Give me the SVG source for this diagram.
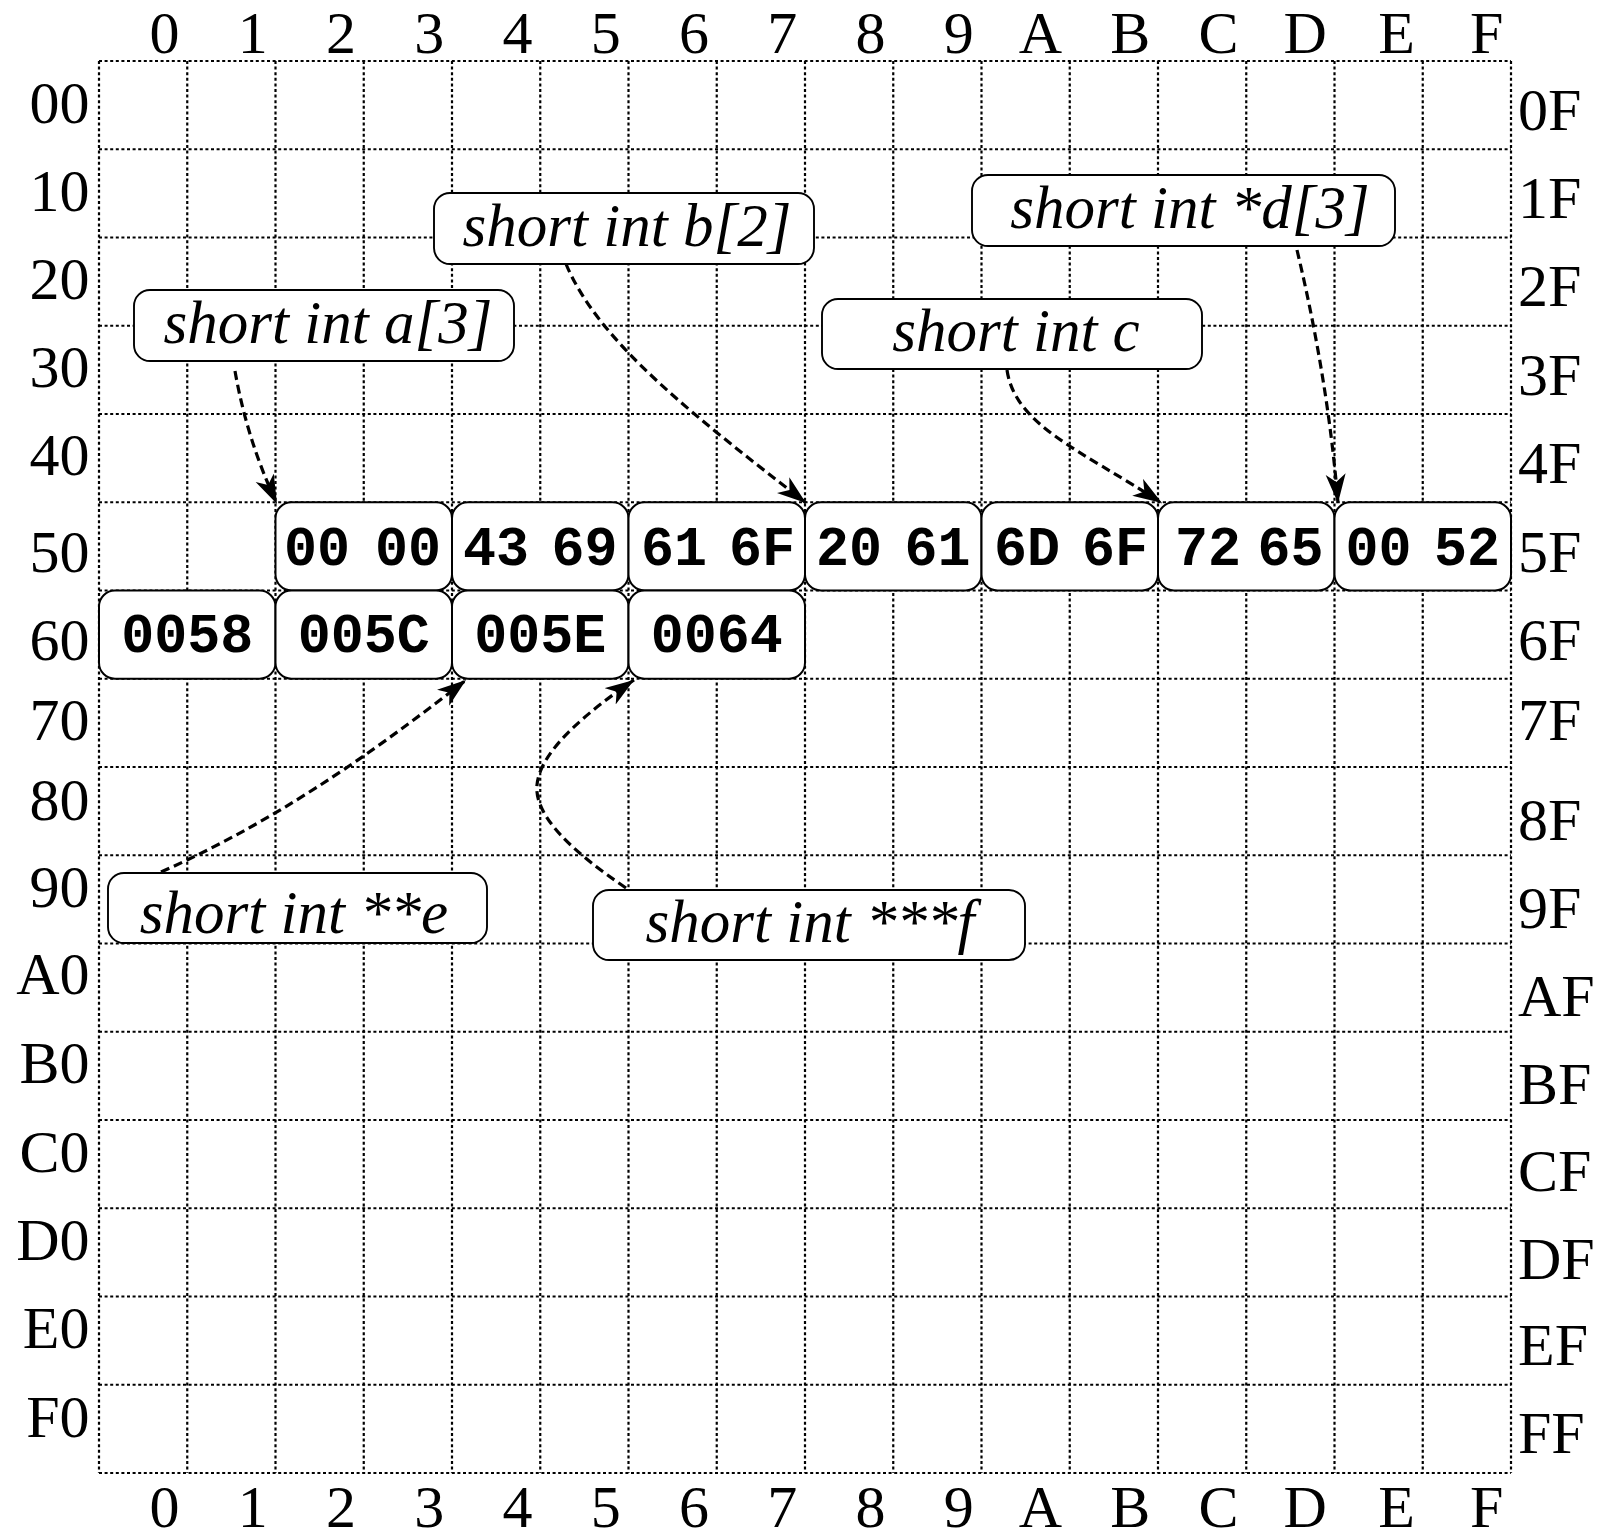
<svg xmlns="http://www.w3.org/2000/svg" width="1615" height="1537" viewBox="0 0 1615 1537">
<style>
.grid line{stroke:#000;stroke-width:2.2;stroke-dasharray:3 2.6}
.ax{font-family:"Liberation Serif","Times New Roman",serif;font-size:60px;fill:#000}
.axe{text-anchor:end}
.lbl rect{fill:#fff;stroke:#000;stroke-width:1.9}
.lbl text{font-family:"Liberation Serif","Times New Roman",serif;font-style:italic;font-size:61px;text-anchor:middle;fill:#000}
.mem rect{fill:#fff;stroke:#000;stroke-width:2}
.mem text{font-family:"Liberation Mono","Courier New",monospace;font-weight:bold;font-size:55px;text-anchor:middle;fill:#000}
.conn path{fill:none;stroke:#000;stroke-width:3.2;stroke-dasharray:9 5;marker-end:url(#ah)}
</style>
<defs>
<marker id="ah" markerUnits="userSpaceOnUse" markerWidth="32" markerHeight="22" refX="29" refY="10" orient="auto">
<path d="M0,0 L29,10 L0,20 L8,10 Z" fill="#000"/>
</marker>
</defs>
<rect width="1615" height="1537" fill="#fff"/>
<g class="grid">
<line x1="99" y1="61" x2="99" y2="1473"/>
<line x1="187.25" y1="61" x2="187.25" y2="1473"/>
<line x1="275.5" y1="61" x2="275.5" y2="1473"/>
<line x1="363.75" y1="61" x2="363.75" y2="1473"/>
<line x1="452" y1="61" x2="452" y2="1473"/>
<line x1="540.25" y1="61" x2="540.25" y2="1473"/>
<line x1="628.5" y1="61" x2="628.5" y2="1473"/>
<line x1="716.75" y1="61" x2="716.75" y2="1473"/>
<line x1="805" y1="61" x2="805" y2="1473"/>
<line x1="893.25" y1="61" x2="893.25" y2="1473"/>
<line x1="981.5" y1="61" x2="981.5" y2="1473"/>
<line x1="1069.75" y1="61" x2="1069.75" y2="1473"/>
<line x1="1158" y1="61" x2="1158" y2="1473"/>
<line x1="1246.25" y1="61" x2="1246.25" y2="1473"/>
<line x1="1334.5" y1="61" x2="1334.5" y2="1473"/>
<line x1="1422.75" y1="61" x2="1422.75" y2="1473"/>
<line x1="1511" y1="61" x2="1511" y2="1473"/>
<line x1="99" y1="61" x2="1511" y2="61"/>
<line x1="99" y1="149.25" x2="1511" y2="149.25"/>
<line x1="99" y1="237.5" x2="1511" y2="237.5"/>
<line x1="99" y1="325.75" x2="1511" y2="325.75"/>
<line x1="99" y1="414" x2="1511" y2="414"/>
<line x1="99" y1="502.25" x2="1511" y2="502.25"/>
<line x1="99" y1="590.5" x2="1511" y2="590.5"/>
<line x1="99" y1="678.75" x2="1511" y2="678.75"/>
<line x1="99" y1="767" x2="1511" y2="767"/>
<line x1="99" y1="855.25" x2="1511" y2="855.25"/>
<line x1="99" y1="943.5" x2="1511" y2="943.5"/>
<line x1="99" y1="1031.75" x2="1511" y2="1031.75"/>
<line x1="99" y1="1120" x2="1511" y2="1120"/>
<line x1="99" y1="1208.25" x2="1511" y2="1208.25"/>
<line x1="99" y1="1296.5" x2="1511" y2="1296.5"/>
<line x1="99" y1="1384.75" x2="1511" y2="1384.75"/>
<line x1="99" y1="1473" x2="1511" y2="1473"/>
</g>
<g id="col-labels-top" class="ax axe">
<text x="179.5" y="53">0</text><text x="267.75" y="53">1</text><text x="356" y="53">2</text><text x="444.25" y="53">3</text>
<text x="532.5" y="53">4</text><text x="620.75" y="53">5</text><text x="709" y="53">6</text><text x="797.25" y="53">7</text>
<text x="885.5" y="53">8</text><text x="973.75" y="53">9</text><text x="1062" y="53">A</text><text x="1150.25" y="53">B</text>
<text x="1238.5" y="53">C</text><text x="1326.75" y="53">D</text><text x="1415" y="53">E</text><text x="1503.25" y="53">F</text>
</g>
<g id="col-labels-bottom" class="ax axe">
<text x="179.5" y="1527">0</text><text x="267.75" y="1527">1</text><text x="356" y="1527">2</text><text x="444.25" y="1527">3</text>
<text x="532.5" y="1527">4</text><text x="620.75" y="1527">5</text><text x="709" y="1527">6</text><text x="797.25" y="1527">7</text>
<text x="885.5" y="1527">8</text><text x="973.75" y="1527">9</text><text x="1062" y="1527">A</text><text x="1150.25" y="1527">B</text>
<text x="1238.5" y="1527">C</text><text x="1326.75" y="1527">D</text><text x="1415" y="1527">E</text><text x="1503.25" y="1527">F</text>
</g>
<g id="row-labels-left" class="ax axe">
<text x="89.5" y="123">00</text><text x="89.5" y="211">10</text><text x="89.5" y="299">20</text><text x="89.5" y="387">30</text>
<text x="89.5" y="475">40</text><text x="89.5" y="572">50</text><text x="89.5" y="660">60</text><text x="89.5" y="740">70</text>
<text x="89.5" y="820">80</text><text x="89.5" y="907">90</text><text x="89.5" y="994">A0</text><text x="89.5" y="1083">B0</text>
<text x="89.5" y="1172">C0</text><text x="89.5" y="1260">D0</text><text x="89.5" y="1348">E0</text><text x="89.5" y="1437">F0</text>
</g>
<g id="row-labels-right" class="ax">
<text x="1518" y="130">0F</text><text x="1518" y="218">1F</text><text x="1518" y="306">2F</text><text x="1518" y="395">3F</text>
<text x="1518" y="483">4F</text><text x="1518" y="572">5F</text><text x="1518" y="660">6F</text><text x="1518" y="740">7F</text>
<text x="1518" y="840">8F</text><text x="1518" y="928">9F</text><text x="1518" y="1016">AF</text><text x="1518" y="1104">BF</text>
<text x="1518" y="1191">CF</text><text x="1518" y="1279">DF</text><text x="1518" y="1365">EF</text><text x="1518" y="1453">FF</text>
</g>
<g id="mem-row-50" class="mem">
<g id="m50"><rect x="275.5" y="502.25" width="176.5" height="88.25" rx="16"/><text x="317" y="565">00</text><text x="408" y="565">00</text></g>
<g id="m52"><rect x="452" y="502.25" width="176.5" height="88.25" rx="16"/><text x="496" y="565">43</text><text x="584.4" y="565">69</text></g>
<g id="m54"><rect x="628.5" y="502.25" width="176.5" height="88.25" rx="16"/><text x="674" y="565">61</text><text x="762" y="565">6F</text></g>
<g id="m56"><rect x="805" y="502.25" width="176.5" height="88.25" rx="16"/><text x="849.1" y="565">20</text><text x="937.4" y="565">61</text></g>
<g id="m58"><rect x="981.5" y="502.25" width="176.5" height="88.25" rx="16"/><text x="1027" y="565">6D</text><text x="1115" y="565">6F</text></g>
<g id="m5A"><rect x="1158" y="502.25" width="176.5" height="88.25" rx="16"/><text x="1208" y="565">72</text><text x="1290.4" y="565">65</text></g>
<g id="m5C"><rect x="1334.5" y="502.25" width="176.5" height="88.25" rx="16"/><text x="1378.6" y="565">00</text><text x="1466.9" y="565">52</text></g>
</g>
<g id="mem-row-60" class="mem">
<g id="m60"><rect x="99" y="590.5" width="176.5" height="88.25" rx="16"/><text x="187.25" y="652">0058</text></g>
<g id="m62"><rect x="275.5" y="590.5" width="176.5" height="88.25" rx="16"/><text x="363.75" y="652">005C</text></g>
<g id="m64"><rect x="452" y="590.5" width="176.5" height="88.25" rx="16"/><text x="540.25" y="652">005E</text></g>
<g id="m66"><rect x="628.5" y="590.5" width="176.5" height="88.25" rx="16"/><text x="716.75" y="652">0064</text></g>
</g>
<g id="label-a" class="lbl"><rect x="134" y="290" width="380" height="71" rx="16"/><text x="328" y="343">short int a[3]</text></g>
<g id="label-b" class="lbl"><rect x="434" y="193" width="380" height="71" rx="16"/><text x="627" y="246">short int b[2]</text></g>
<g id="label-c" class="lbl"><rect x="822" y="299" width="380" height="70" rx="16"/><text x="1016" y="351">short int c</text></g>
<g id="label-d" class="lbl"><rect x="972" y="175" width="423" height="71" rx="16"/><text x="1190" y="228">short int *d[3]</text></g>
<g id="label-e" class="lbl"><rect x="108" y="873" width="379" height="70" rx="16"/><text x="294" y="933">short int **e</text></g>
<g id="label-f" class="lbl"><rect x="593" y="890" width="432" height="70" rx="16"/><text x="810" y="942">short int ***f</text></g>
<g id="connectors" class="conn">
<path d="M235,371 Q247,440 277,504"/>
<path d="M566,264 C600,345 700,420 806,503"/>
<path d="M1007,370 C1015,425 1080,450 1162,503"/>
<path d="M1297,250 Q1328,380 1338,503"/>
<path d="M161,872 C290,815 395,735 466,680"/>
<path d="M626,888 C570,850 534,815 537,785 C540,750 590,710 634,680"/>
</g>
</svg>
